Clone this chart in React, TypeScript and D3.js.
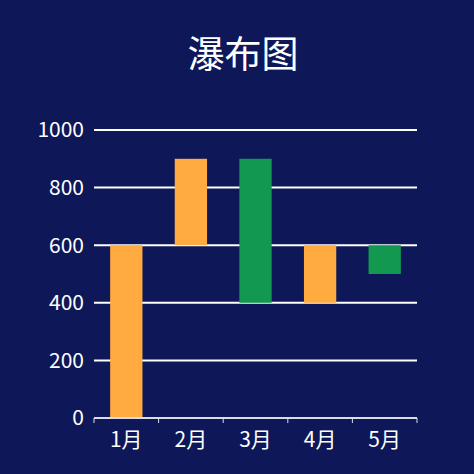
import React from 'react';
import * as d3 from 'd3';

const months = ['1月', '2月', '3月', '4月', '5月'];
const starts = [0, 600, 900, 400, 600];
const ends = [600, 900, 400, 600, 500];
const yTicks = [0, 200, 400, 600, 800, 1000];

const W = 474;
const H = 474;
const margin = { top: 130, right: 57, bottom: 56, left: 94 };
const font = '"Noto Sans CJK SC", "Noto Sans", sans-serif';

export default function App() {
  const x = d3.scaleBand<string>()
    .domain(months)
    .range([margin.left, W - margin.right])
    .paddingInner(0.5)
    .paddingOuter(0.25);

  // bands without padding so ticks sit on category borders
  const xTick = d3.scaleBand<string>()
    .domain(months)
    .range([margin.left, W - margin.right]);

  const y = d3.scaleLinear()
    .domain([0, 1000])
    .range([H - margin.bottom, margin.top]);

  const data = months.map((m, i) => ({
    m,
    lo: Math.min(starts[i], ends[i]),
    hi: Math.max(starts[i], ends[i]),
    up: ends[i] >= starts[i],
  }));

  return (
    <div style={{ position: 'absolute', left: 0, top: 0, width: W, height: H }}>
      <svg width={W} height={H} style={{ display: 'block', fontFamily: font }}>
        <rect width={W} height={H} fill="#0e1858" />
        <text x={243} y={68} textAnchor="middle" fill="#ffffff" fontSize={37}>瀑布图</text>

        {yTicks.filter(t => t > 0).map(t => (
          <line key={t} x1={margin.left} x2={W - margin.right} y1={y(t)} y2={y(t)}
            stroke="#ffffff" strokeWidth={2} />
        ))}
        {yTicks.map(t => (
          <text key={t} x={margin.left - 10} y={y(t)} dy="0.35em" textAnchor="end"
            fill="#ffffff" fontSize={21}>{t}</text>
        ))}

        {data.map(d => (
          <rect key={d.m} x={x(d.m)} width={x.bandwidth()} y={y(d.hi)} height={y(d.lo) - y(d.hi)}
            fill={d.up ? '#ffab40' : '#13994f'} />
        ))}

        <line x1={margin.left} x2={W - margin.right} y1={y(0)} y2={y(0)} stroke="#d9dce8" strokeWidth={2} />
        {months.map(m => (
          <line key={m} x1={xTick(m)} x2={xTick(m)} y1={y(0)} y2={y(0) + 5} stroke="#d9dce8" strokeWidth={1} />
        ))}
        <line x1={W - margin.right} x2={W - margin.right} y1={y(0)} y2={y(0) + 5} stroke="#d9dce8" strokeWidth={1} />
        {months.map(m => (
          <text key={m} x={xTick(m)! + xTick.bandwidth() / 2} y={y(0) + 22} dy="0.35em"
            textAnchor="middle" fill="#ffffff" fontSize={21}>{m}</text>
        ))}
      </svg>
    </div>
  );
}
